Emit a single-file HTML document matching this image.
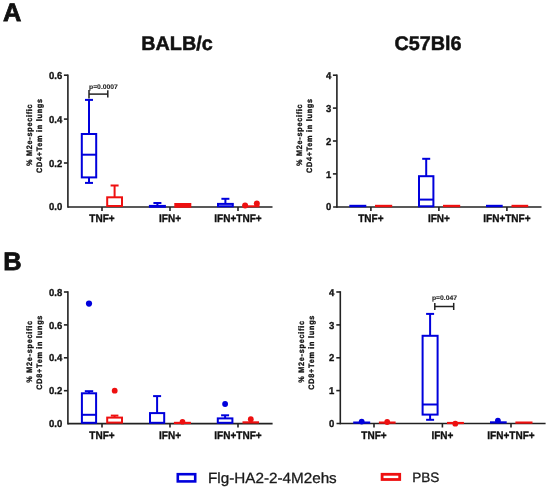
<!DOCTYPE html>
<html><head><meta charset="utf-8"><title>M2e-specific Tem in lungs</title>
<style>
html,body{margin:0;padding:0;background:#fff;}
svg{display:block;font-family:"Liberation Sans",Arial,sans-serif;text-rendering:geometricPrecision;}
</style></head>
<body>
<svg width="550" height="489" viewBox="0 0 550 489">
<rect x="0" y="0" width="550" height="489" fill="#fff"/>
<text x="2.9" y="20.8" font-size="25.4" text-anchor="start" font-weight="bold" fill="#111" stroke="#111" stroke-width="0.8">A</text>
<text x="3.3" y="270.3" font-size="25.4" text-anchor="start" font-weight="bold" fill="#111" stroke="#111" stroke-width="0.8">B</text>
<text x="177" y="50.2" font-size="19.8" text-anchor="middle" font-weight="bold" fill="#111" stroke="#111" stroke-width="0.5">BALB/c</text>
<text x="428" y="50.2" font-size="19.8" text-anchor="middle" font-weight="bold" fill="#111" stroke="#111" stroke-width="0.5">C57Bl6</text>
<line x1="67.9" y1="74.4" x2="67.9" y2="207.8" stroke="#222" stroke-width="1.6"/>
<line x1="67.9" y1="207" x2="272.5" y2="207" stroke="#222" stroke-width="1.6"/>
<line x1="63.9" y1="75.2" x2="67.9" y2="75.2" stroke="#222" stroke-width="1.6"/>
<text transform="translate(62.3,78.8) scale(0.95,1)" font-size="10" text-anchor="end" font-weight="bold" fill="#111" stroke="#111" stroke-width="0.35">0.6</text>
<line x1="63.9" y1="119.1" x2="67.9" y2="119.1" stroke="#222" stroke-width="1.6"/>
<text transform="translate(62.3,122.7) scale(0.95,1)" font-size="10" text-anchor="end" font-weight="bold" fill="#111" stroke="#111" stroke-width="0.35">0.4</text>
<line x1="63.9" y1="163" x2="67.9" y2="163" stroke="#222" stroke-width="1.6"/>
<text transform="translate(62.3,166.6) scale(0.95,1)" font-size="10" text-anchor="end" font-weight="bold" fill="#111" stroke="#111" stroke-width="0.35">0.2</text>
<text transform="translate(62.3,210.4) scale(0.95,1)" font-size="10" text-anchor="end" font-weight="bold" fill="#111" stroke="#111" stroke-width="0.35">0.0</text>
<line x1="102" y1="207" x2="102" y2="211" stroke="#222" stroke-width="1.6"/>
<text transform="translate(102,221.9) scale(0.92,1)" font-size="10.9" text-anchor="middle" font-weight="bold" fill="#111" stroke="#111" stroke-width="0.35">TNF+</text>
<line x1="170" y1="207" x2="170" y2="211" stroke="#222" stroke-width="1.6"/>
<text transform="translate(170,221.9) scale(0.92,1)" font-size="10.9" text-anchor="middle" font-weight="bold" fill="#111" stroke="#111" stroke-width="0.35">IFN+</text>
<line x1="238" y1="207" x2="238" y2="211" stroke="#222" stroke-width="1.6"/>
<text transform="translate(238,221.9) scale(0.92,1)" font-size="10.9" text-anchor="middle" font-weight="bold" fill="#111" stroke="#111" stroke-width="0.35">IFN+TNF+</text>
<text x="0" y="0" font-size="7.9" text-anchor="middle" font-weight="bold" fill="#111" letter-spacing="0.8" stroke="#111" stroke-width="0.3" transform="translate(31.8,134.8) rotate(-90) scale(0.92,1)">% M2e-specific</text>
<text x="0" y="0" font-size="7.9" text-anchor="middle" font-weight="bold" fill="#111" letter-spacing="0.8" stroke="#111" stroke-width="0.3" transform="translate(41.8,135.6) rotate(-90) scale(0.92,1)">CD4+Tem in lungs</text>
<line x1="89" y1="99.9" x2="89" y2="134" stroke="#0000dc" stroke-width="2"/>
<line x1="85" y1="99.9" x2="93" y2="99.9" stroke="#0000dc" stroke-width="2"/>
<line x1="89" y1="177.4" x2="89" y2="182.9" stroke="#0000dc" stroke-width="2"/>
<line x1="85" y1="182.9" x2="93" y2="182.9" stroke="#0000dc" stroke-width="2"/>
<rect x="81.8" y="134" width="14.4" height="43.4" fill="none" stroke="#0000dc" stroke-width="2"/>
<line x1="81.8" y1="154.7" x2="96.2" y2="154.7" stroke="#0000dc" stroke-width="2"/>
<line x1="114.6" y1="185.5" x2="114.6" y2="197.3" stroke="#ee1010" stroke-width="2"/>
<line x1="110.6" y1="185.5" x2="118.6" y2="185.5" stroke="#ee1010" stroke-width="2"/>
<rect x="107.2" y="197.3" width="14.8" height="8.7" fill="none" stroke="#ee1010" stroke-width="2"/>
<line x1="157.4" y1="203" x2="157.4" y2="205.9" stroke="#0000dc" stroke-width="2"/>
<line x1="153.4" y1="203" x2="161.4" y2="203" stroke="#0000dc" stroke-width="2"/>
<rect x="149.9" y="205.9" width="15" height="0.9" fill="none" stroke="#0000dc" stroke-width="2"/>
<rect x="175.3" y="204" width="15" height="2.8" fill="#ee1010" stroke="#ee1010" stroke-width="2"/>
<line x1="225.4" y1="198.8" x2="225.4" y2="203.9" stroke="#0000dc" stroke-width="2"/>
<line x1="221.4" y1="198.8" x2="229.4" y2="198.8" stroke="#0000dc" stroke-width="2"/>
<rect x="218" y="203.9" width="14.8" height="2.4" fill="none" stroke="#0000dc" stroke-width="2"/>
<line x1="245" y1="206.3" x2="259.5" y2="206.3" stroke="#ee1010" stroke-width="2"/>
<circle cx="245.1" cy="205.4" r="3" fill="#ee1010"/>
<circle cx="256.8" cy="203.4" r="3" fill="#ee1010"/>
<text transform="translate(89,89.2) scale(1.03,1)" font-size="6.6" text-anchor="start" font-weight="bold" fill="#262626" stroke="#262626" stroke-width="0.12">p=0.0007</text>
<line x1="89" y1="94.1" x2="107.8" y2="94.1" stroke="#222" stroke-width="1.5"/>
<line x1="89" y1="90" x2="89" y2="98.5" stroke="#222" stroke-width="1.5"/>
<line x1="107.8" y1="90.2" x2="107.8" y2="97.6" stroke="#222" stroke-width="1.5"/>
<line x1="336.9" y1="74.4" x2="336.9" y2="207.8" stroke="#222" stroke-width="1.6"/>
<line x1="333.1" y1="207" x2="541.5" y2="207" stroke="#222" stroke-width="1.6"/>
<line x1="332.9" y1="75.2" x2="336.9" y2="75.2" stroke="#222" stroke-width="1.6"/>
<text transform="translate(331.4,78.8) scale(0.95,1)" font-size="10" text-anchor="end" font-weight="bold" fill="#111" stroke="#111" stroke-width="0.35">4</text>
<line x1="332.9" y1="108.1" x2="336.9" y2="108.1" stroke="#222" stroke-width="1.6"/>
<text transform="translate(331.4,111.7) scale(0.95,1)" font-size="10" text-anchor="end" font-weight="bold" fill="#111" stroke="#111" stroke-width="0.35">3</text>
<line x1="332.9" y1="141" x2="336.9" y2="141" stroke="#222" stroke-width="1.6"/>
<text transform="translate(331.4,144.6) scale(0.95,1)" font-size="10" text-anchor="end" font-weight="bold" fill="#111" stroke="#111" stroke-width="0.35">2</text>
<line x1="332.9" y1="173.9" x2="336.9" y2="173.9" stroke="#222" stroke-width="1.6"/>
<text transform="translate(331.4,177.5) scale(0.95,1)" font-size="10" text-anchor="end" font-weight="bold" fill="#111" stroke="#111" stroke-width="0.35">1</text>
<text transform="translate(331.4,210.4) scale(0.95,1)" font-size="10" text-anchor="end" font-weight="bold" fill="#111" stroke="#111" stroke-width="0.35">0</text>
<line x1="370.9" y1="207" x2="370.9" y2="211" stroke="#222" stroke-width="1.6"/>
<text transform="translate(370.9,221.9) scale(0.92,1)" font-size="10.9" text-anchor="middle" font-weight="bold" fill="#111" stroke="#111" stroke-width="0.35">TNF+</text>
<line x1="438.9" y1="207" x2="438.9" y2="211" stroke="#222" stroke-width="1.6"/>
<text transform="translate(438.9,221.9) scale(0.92,1)" font-size="10.9" text-anchor="middle" font-weight="bold" fill="#111" stroke="#111" stroke-width="0.35">IFN+</text>
<line x1="506.9" y1="207" x2="506.9" y2="211" stroke="#222" stroke-width="1.6"/>
<text transform="translate(506.9,221.9) scale(0.92,1)" font-size="10.9" text-anchor="middle" font-weight="bold" fill="#111" stroke="#111" stroke-width="0.35">IFN+TNF+</text>
<text x="0" y="0" font-size="7.9" text-anchor="middle" font-weight="bold" fill="#111" letter-spacing="0.8" stroke="#111" stroke-width="0.3" transform="translate(301.5,134.8) rotate(-90) scale(0.92,1)">% M2e-specific</text>
<text x="0" y="0" font-size="7.9" text-anchor="middle" font-weight="bold" fill="#111" letter-spacing="0.8" stroke="#111" stroke-width="0.3" transform="translate(311.9,135.6) rotate(-90) scale(0.92,1)">CD4+Tem in lungs</text>
<line x1="349.3" y1="206" x2="366.3" y2="206" stroke="#0000dc" stroke-width="2.4"/>
<line x1="375" y1="206" x2="392.2" y2="206" stroke="#ee1010" stroke-width="2.4"/>
<line x1="426.2" y1="158.8" x2="426.2" y2="176.2" stroke="#0000dc" stroke-width="2"/>
<line x1="422.2" y1="158.8" x2="430.2" y2="158.8" stroke="#0000dc" stroke-width="2"/>
<rect x="419" y="176.2" width="14.4" height="30.1" fill="none" stroke="#0000dc" stroke-width="2"/>
<line x1="419" y1="199.6" x2="433.4" y2="199.6" stroke="#0000dc" stroke-width="2"/>
<line x1="443" y1="206" x2="460.2" y2="206" stroke="#ee1010" stroke-width="2.4"/>
<line x1="486" y1="206" x2="502.7" y2="206" stroke="#0000dc" stroke-width="2.4"/>
<line x1="511.5" y1="206" x2="528.2" y2="206" stroke="#ee1010" stroke-width="2.4"/>
<line x1="67.9" y1="291.2" x2="67.9" y2="424.4" stroke="#222" stroke-width="1.6"/>
<line x1="67.9" y1="423.6" x2="272.6" y2="423.6" stroke="#222" stroke-width="1.6"/>
<line x1="63.9" y1="292" x2="67.9" y2="292" stroke="#222" stroke-width="1.6"/>
<text transform="translate(62.2,295.6) scale(0.95,1)" font-size="10" text-anchor="end" font-weight="bold" fill="#111" stroke="#111" stroke-width="0.35">0.8</text>
<line x1="63.9" y1="324.9" x2="67.9" y2="324.9" stroke="#222" stroke-width="1.6"/>
<text transform="translate(62.2,328.5) scale(0.95,1)" font-size="10" text-anchor="end" font-weight="bold" fill="#111" stroke="#111" stroke-width="0.35">0.6</text>
<line x1="63.9" y1="357.8" x2="67.9" y2="357.8" stroke="#222" stroke-width="1.6"/>
<text transform="translate(62.2,361.4) scale(0.95,1)" font-size="10" text-anchor="end" font-weight="bold" fill="#111" stroke="#111" stroke-width="0.35">0.4</text>
<line x1="63.9" y1="390.7" x2="67.9" y2="390.7" stroke="#222" stroke-width="1.6"/>
<text transform="translate(62.2,394.3) scale(0.95,1)" font-size="10" text-anchor="end" font-weight="bold" fill="#111" stroke="#111" stroke-width="0.35">0.2</text>
<text transform="translate(62.2,427.2) scale(0.95,1)" font-size="10" text-anchor="end" font-weight="bold" fill="#111" stroke="#111" stroke-width="0.35">0.0</text>
<line x1="102" y1="423.6" x2="102" y2="427.6" stroke="#222" stroke-width="1.6"/>
<text transform="translate(102,438.9) scale(0.92,1)" font-size="10.9" text-anchor="middle" font-weight="bold" fill="#111" stroke="#111" stroke-width="0.35">TNF+</text>
<line x1="170" y1="423.6" x2="170" y2="427.6" stroke="#222" stroke-width="1.6"/>
<text transform="translate(170,438.9) scale(0.92,1)" font-size="10.9" text-anchor="middle" font-weight="bold" fill="#111" stroke="#111" stroke-width="0.35">IFN+</text>
<line x1="238" y1="423.6" x2="238" y2="427.6" stroke="#222" stroke-width="1.6"/>
<text transform="translate(238,438.9) scale(0.92,1)" font-size="10.9" text-anchor="middle" font-weight="bold" fill="#111" stroke="#111" stroke-width="0.35">IFN+TNF+</text>
<text x="0" y="0" font-size="7.9" text-anchor="middle" font-weight="bold" fill="#111" letter-spacing="0.8" stroke="#111" stroke-width="0.3" transform="translate(31.5,351.5) rotate(-90) scale(0.92,1)">% M2e-specific</text>
<text x="0" y="0" font-size="7.9" text-anchor="middle" font-weight="bold" fill="#111" letter-spacing="0.8" stroke="#111" stroke-width="0.3" transform="translate(41.6,352.3) rotate(-90) scale(0.92,1)">CD8+Tem in lungs</text>
<circle cx="89" cy="303.6" r="3.1" fill="#0000dc"/>
<line x1="89" y1="391.2" x2="89" y2="393.3" stroke="#0000dc" stroke-width="2"/>
<line x1="84.8" y1="391.2" x2="93.2" y2="391.2" stroke="#0000dc" stroke-width="2"/>
<rect x="81.9" y="393.3" width="14.2" height="29.5" fill="none" stroke="#0000dc" stroke-width="2"/>
<line x1="81.9" y1="414.8" x2="96.1" y2="414.8" stroke="#0000dc" stroke-width="2"/>
<circle cx="114.7" cy="390.7" r="2.9" fill="#ee1010"/>
<line x1="114.6" y1="415.6" x2="114.6" y2="417.6" stroke="#ee1010" stroke-width="2"/>
<line x1="110.8" y1="415.6" x2="118.4" y2="415.6" stroke="#ee1010" stroke-width="2"/>
<rect x="107.2" y="417.6" width="14.8" height="5" fill="none" stroke="#ee1010" stroke-width="2"/>
<line x1="157.1" y1="396.1" x2="157.1" y2="413.1" stroke="#0000dc" stroke-width="2"/>
<line x1="153.1" y1="396.1" x2="161.1" y2="396.1" stroke="#0000dc" stroke-width="2"/>
<rect x="150" y="413.1" width="14.2" height="9.7" fill="none" stroke="#0000dc" stroke-width="2"/>
<line x1="173.9" y1="422.9" x2="190.9" y2="422.9" stroke="#ee1010" stroke-width="2.2"/>
<circle cx="182.5" cy="421.8" r="2.8" fill="#ee1010"/>
<circle cx="225.1" cy="404" r="2.9" fill="#0000dc"/>
<line x1="225.1" y1="415.3" x2="225.1" y2="418.4" stroke="#0000dc" stroke-width="2"/>
<line x1="221.1" y1="415.3" x2="229.1" y2="415.3" stroke="#0000dc" stroke-width="2"/>
<rect x="217.8" y="418.4" width="14.6" height="4.4" fill="none" stroke="#0000dc" stroke-width="2"/>
<line x1="242.5" y1="422.4" x2="259" y2="422.4" stroke="#ee1010" stroke-width="2.2"/>
<circle cx="250.8" cy="419.2" r="2.9" fill="#ee1010"/>
<line x1="340.3" y1="291.2" x2="340.3" y2="424.3" stroke="#222" stroke-width="1.6"/>
<line x1="336.5" y1="423.5" x2="545.6" y2="423.5" stroke="#222" stroke-width="1.6"/>
<line x1="336.3" y1="292" x2="340.3" y2="292" stroke="#222" stroke-width="1.6"/>
<text transform="translate(334.4,295.6) scale(0.95,1)" font-size="10" text-anchor="end" font-weight="bold" fill="#111" stroke="#111" stroke-width="0.35">4</text>
<line x1="336.3" y1="324.9" x2="340.3" y2="324.9" stroke="#222" stroke-width="1.6"/>
<text transform="translate(334.4,328.5) scale(0.95,1)" font-size="10" text-anchor="end" font-weight="bold" fill="#111" stroke="#111" stroke-width="0.35">3</text>
<line x1="336.3" y1="357.8" x2="340.3" y2="357.8" stroke="#222" stroke-width="1.6"/>
<text transform="translate(334.4,361.4) scale(0.95,1)" font-size="10" text-anchor="end" font-weight="bold" fill="#111" stroke="#111" stroke-width="0.35">2</text>
<line x1="336.3" y1="390.6" x2="340.3" y2="390.6" stroke="#222" stroke-width="1.6"/>
<text transform="translate(334.4,394.2) scale(0.95,1)" font-size="10" text-anchor="end" font-weight="bold" fill="#111" stroke="#111" stroke-width="0.35">1</text>
<text transform="translate(334.4,427.1) scale(0.95,1)" font-size="10" text-anchor="end" font-weight="bold" fill="#111" stroke="#111" stroke-width="0.35">0</text>
<line x1="374" y1="423.5" x2="374" y2="427.5" stroke="#222" stroke-width="1.6"/>
<text transform="translate(374,439) scale(0.92,1)" font-size="10.9" text-anchor="middle" font-weight="bold" fill="#111" stroke="#111" stroke-width="0.35">TNF+</text>
<line x1="442.4" y1="423.5" x2="442.4" y2="427.5" stroke="#222" stroke-width="1.6"/>
<text transform="translate(442.4,439) scale(0.92,1)" font-size="10.9" text-anchor="middle" font-weight="bold" fill="#111" stroke="#111" stroke-width="0.35">IFN+</text>
<line x1="511" y1="423.5" x2="511" y2="427.5" stroke="#222" stroke-width="1.6"/>
<text transform="translate(511,439) scale(0.92,1)" font-size="10.9" text-anchor="middle" font-weight="bold" fill="#111" stroke="#111" stroke-width="0.35">IFN+TNF+</text>
<text x="0" y="0" font-size="7.9" text-anchor="middle" font-weight="bold" fill="#111" letter-spacing="0.8" stroke="#111" stroke-width="0.3" transform="translate(304,351.5) rotate(-90) scale(0.92,1)">% M2e-specific</text>
<text x="0" y="0" font-size="7.9" text-anchor="middle" font-weight="bold" fill="#111" letter-spacing="0.8" stroke="#111" stroke-width="0.3" transform="translate(314.4,352.3) rotate(-90) scale(0.92,1)">CD8+Tem in lungs</text>
<line x1="353.2" y1="422.6" x2="370.2" y2="422.6" stroke="#0000dc" stroke-width="2.2"/>
<circle cx="361.7" cy="421.6" r="2.9" fill="#0000dc"/>
<line x1="378.9" y1="422.6" x2="395.6" y2="422.6" stroke="#ee1010" stroke-width="2.2"/>
<circle cx="387.2" cy="422" r="2.9" fill="#ee1010"/>
<line x1="430.1" y1="313.9" x2="430.1" y2="335.8" stroke="#0000dc" stroke-width="2"/>
<line x1="426.1" y1="313.9" x2="434.1" y2="313.9" stroke="#0000dc" stroke-width="2"/>
<line x1="430.1" y1="414.6" x2="430.1" y2="419.8" stroke="#0000dc" stroke-width="2"/>
<line x1="426.1" y1="419.8" x2="434.1" y2="419.8" stroke="#0000dc" stroke-width="2"/>
<rect x="422.6" y="335.8" width="15" height="78.8" fill="none" stroke="#0000dc" stroke-width="2"/>
<line x1="422.6" y1="404.5" x2="437.6" y2="404.5" stroke="#0000dc" stroke-width="2"/>
<line x1="447" y1="423" x2="463.9" y2="423" stroke="#ee1010" stroke-width="2.2"/>
<circle cx="455.3" cy="423.7" r="2.9" fill="#ee1010"/>
<line x1="490" y1="422.4" x2="506.7" y2="422.4" stroke="#0000dc" stroke-width="2.2"/>
<circle cx="497.9" cy="420.6" r="2.9" fill="#0000dc"/>
<line x1="515.4" y1="422.6" x2="532.5" y2="422.6" stroke="#ee1010" stroke-width="2.2"/>
<text transform="translate(431.9,299.6) scale(1.03,1)" font-size="6.6" text-anchor="start" font-weight="bold" fill="#262626" stroke="#262626" stroke-width="0.12">p=0.047</text>
<line x1="434.8" y1="306.5" x2="453.7" y2="306.5" stroke="#222" stroke-width="1.5"/>
<line x1="434.8" y1="302.9" x2="434.8" y2="310" stroke="#222" stroke-width="1.5"/>
<line x1="453.7" y1="302.9" x2="453.7" y2="310" stroke="#222" stroke-width="1.5"/>
<rect x="177.8" y="474.2" width="17.4" height="7.2" fill="none" stroke="#0000dc" stroke-width="2.6"/>
<text transform="translate(208,482.5) scale(1.03,1)" font-size="14.8" fill="#1a1a1a" stroke="#1a1a1a" stroke-width="0.3">Flg-HA2-2-4M2ehs</text>
<rect x="382.1" y="474.3" width="17.6" height="5.2" fill="none" stroke="#ee1010" stroke-width="2.8"/>
<text x="412.2" y="481.9" font-size="13.6" text-anchor="start" font-weight="normal" fill="#1a1a1a" stroke="#1a1a1a" stroke-width="0.3">PBS</text>
</svg>
</body></html>
